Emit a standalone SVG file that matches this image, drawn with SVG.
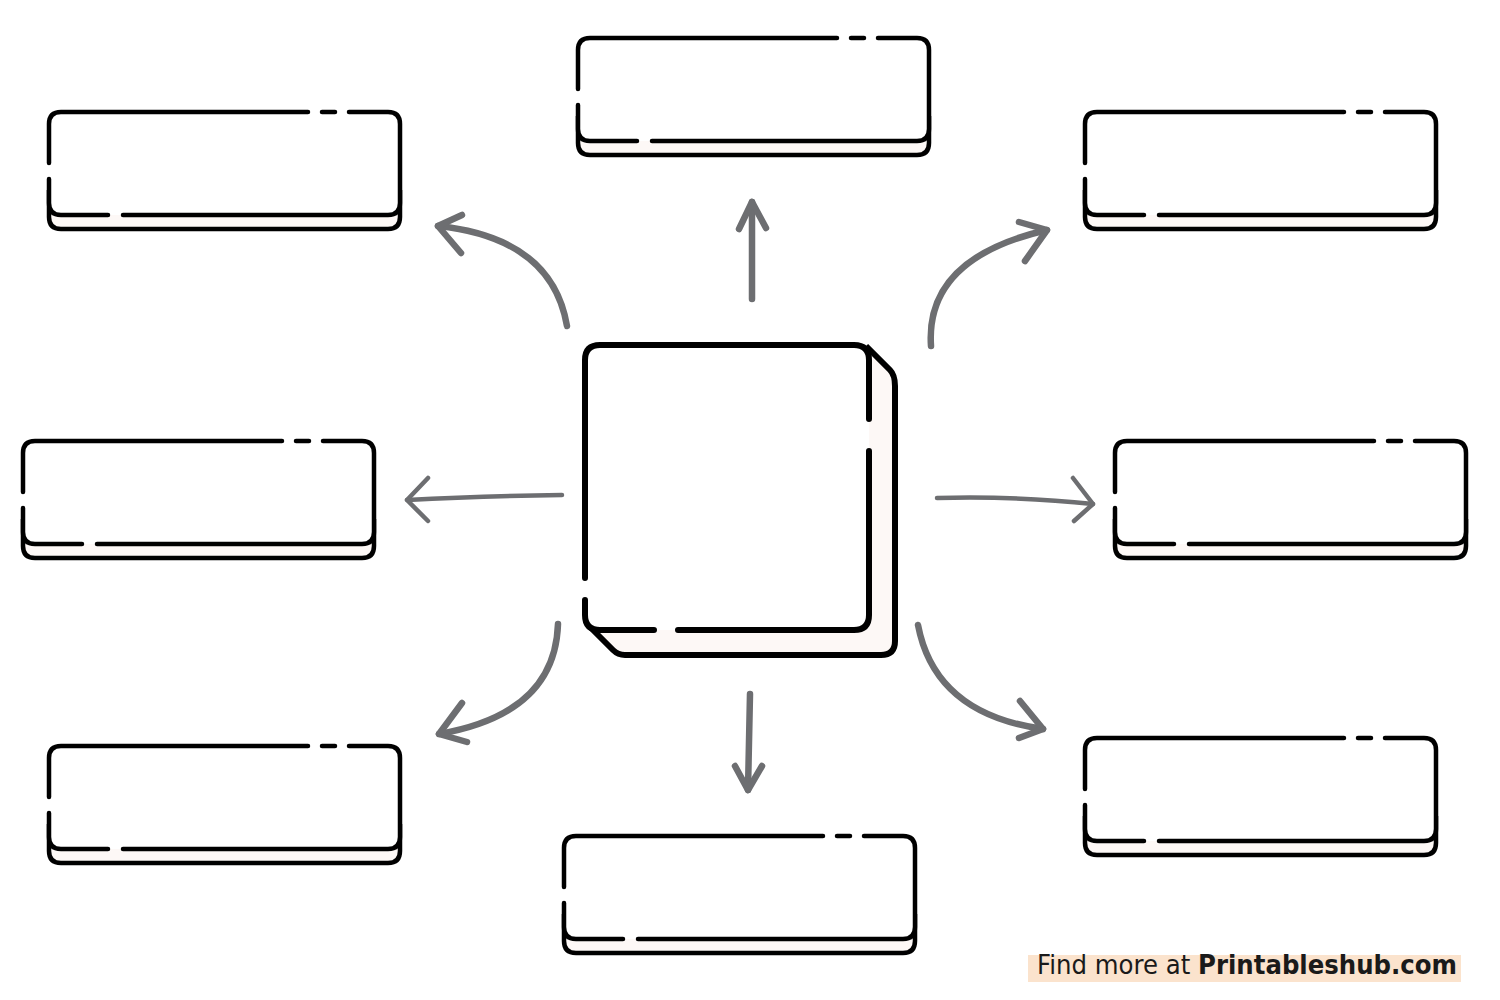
<svg xmlns="http://www.w3.org/2000/svg" xmlns:xlink="http://www.w3.org/1999/xlink" width="1500" height="1000" viewBox="0 0 1500 1000">
<style>
.ln{fill:none;stroke:#000;stroke-width:4.5;stroke-linecap:round;stroke-linejoin:round}
.back{fill:#fdf8f6;stroke:#000;stroke-width:4.5;stroke-linejoin:round}
.cln{fill:none;stroke:#000;stroke-width:6;stroke-linecap:round;stroke-linejoin:round}
.cback{fill:#fdf8f6;stroke:#000;stroke-width:6;stroke-linejoin:round}
.arr{fill:none;stroke:#6d6e71;stroke-width:6.5;stroke-linecap:round;stroke-linejoin:round}
.arr-thin{fill:none;stroke:#6d6e71;stroke-width:4.5;stroke-linecap:round;stroke-linejoin:round}
.foot{font-family:"DejaVu Sans","Liberation Sans",sans-serif;font-size:27px;fill:#1a1a1a}
</style>
<defs>
<g id="box">
<path class="back" d="M2,80 L2,107 Q2,119 14,119 L341,119 Q353,119 353,107 L353,80"/>
<rect x="2" y="2" width="351" height="103" rx="12" fill="#fff"/>
<path class="ln" d="M2,69 L2,93 Q2,105 14,105 L61,105"/>
<path class="ln" d="M76,105 L341,105 Q353,105 353,93 L353,14 Q353,2 341,2 L302,2"/>
<path class="ln" d="M288,2 L275,2"/>
<path class="ln" d="M261,2 L14,2 Q2,2 2,14 L2,53"/>
</g>
</defs>
<rect width="1500" height="1000" fill="#fff"/>
<g id="center-node">
<path class="cback" d="M866,346 L890,370 Q895,375 895,386 L895,641 Q895,655 881,655 L625,655 Q618,655 613,650 L588,625"/>
<rect x="585" y="345" width="284" height="285" rx="15" fill="#fff"/>
<path class="cln" d="M585,600 L585,615 Q585,630 600,630 L654,630"/>
<path class="cln" d="M678,630 L854,630 Q869,630 869,615 L869,451"/>
<path class="cln" d="M869,419 L869,360 Q869,345 854,345 L600,345 Q585,345 585,360 L585,578"/>
</g>
<g id="node-top-left" transform="translate(47,110)"><use xlink:href="#box"/></g>
<g id="node-top" transform="translate(576,36)"><use xlink:href="#box"/></g>
<g id="node-top-right" transform="translate(1083,110)"><use xlink:href="#box"/></g>
<g id="node-left" transform="translate(21,439)"><use xlink:href="#box"/></g>
<g id="node-right" transform="translate(1113,439)"><use xlink:href="#box"/></g>
<g id="node-bottom-left" transform="translate(47,744)"><use xlink:href="#box"/></g>
<g id="node-bottom" transform="translate(562,834)"><use xlink:href="#box"/></g>
<g id="node-bottom-right" transform="translate(1083,736)"><use xlink:href="#box"/></g>
<g id="connectors">
<path class="arr" d="M567,326 Q552,238 438,226"/>
<path class="arr" d="M462,215 L438,226 L461,253"/>
<path class="arr" d="M752,299 L752,202"/>
<path class="arr" d="M739,229 L752,202 L766,228"/>
<path class="arr" d="M931,346 Q925,258 1047,230"/>
<path class="arr" d="M1019,222 L1047,230 L1025,261"/>
<path class="arr-thin" d="M562,495 Q480,496 407,500"/>
<path class="arr-thin" d="M428,478 L407,500 L428,521"/>
<path class="arr-thin" d="M937,498 Q1020,496 1093,504"/>
<path class="arr-thin" d="M1073,478 L1093,504 L1074,521"/>
<path class="arr" d="M558,624 Q555,714 439,734"/>
<path class="arr" d="M462,703 L439,734 L467,742"/>
<path class="arr" d="M750,694 L748,790"/>
<path class="arr" d="M735,766 L748,790 L762,766"/>
<path class="arr" d="M918,625 Q935,714 1043,729"/>
<path class="arr" d="M1020,701 L1043,729 L1019,738"/>
</g>
<g id="footer">
<rect x="1028" y="955" width="433" height="27" fill="#fbe3cd"/>
<text class="foot" x="1037" y="974" textLength="420" lengthAdjust="spacingAndGlyphs">Find more at <tspan font-weight="bold">Printableshub.com</tspan></text>
</g>
</svg>
